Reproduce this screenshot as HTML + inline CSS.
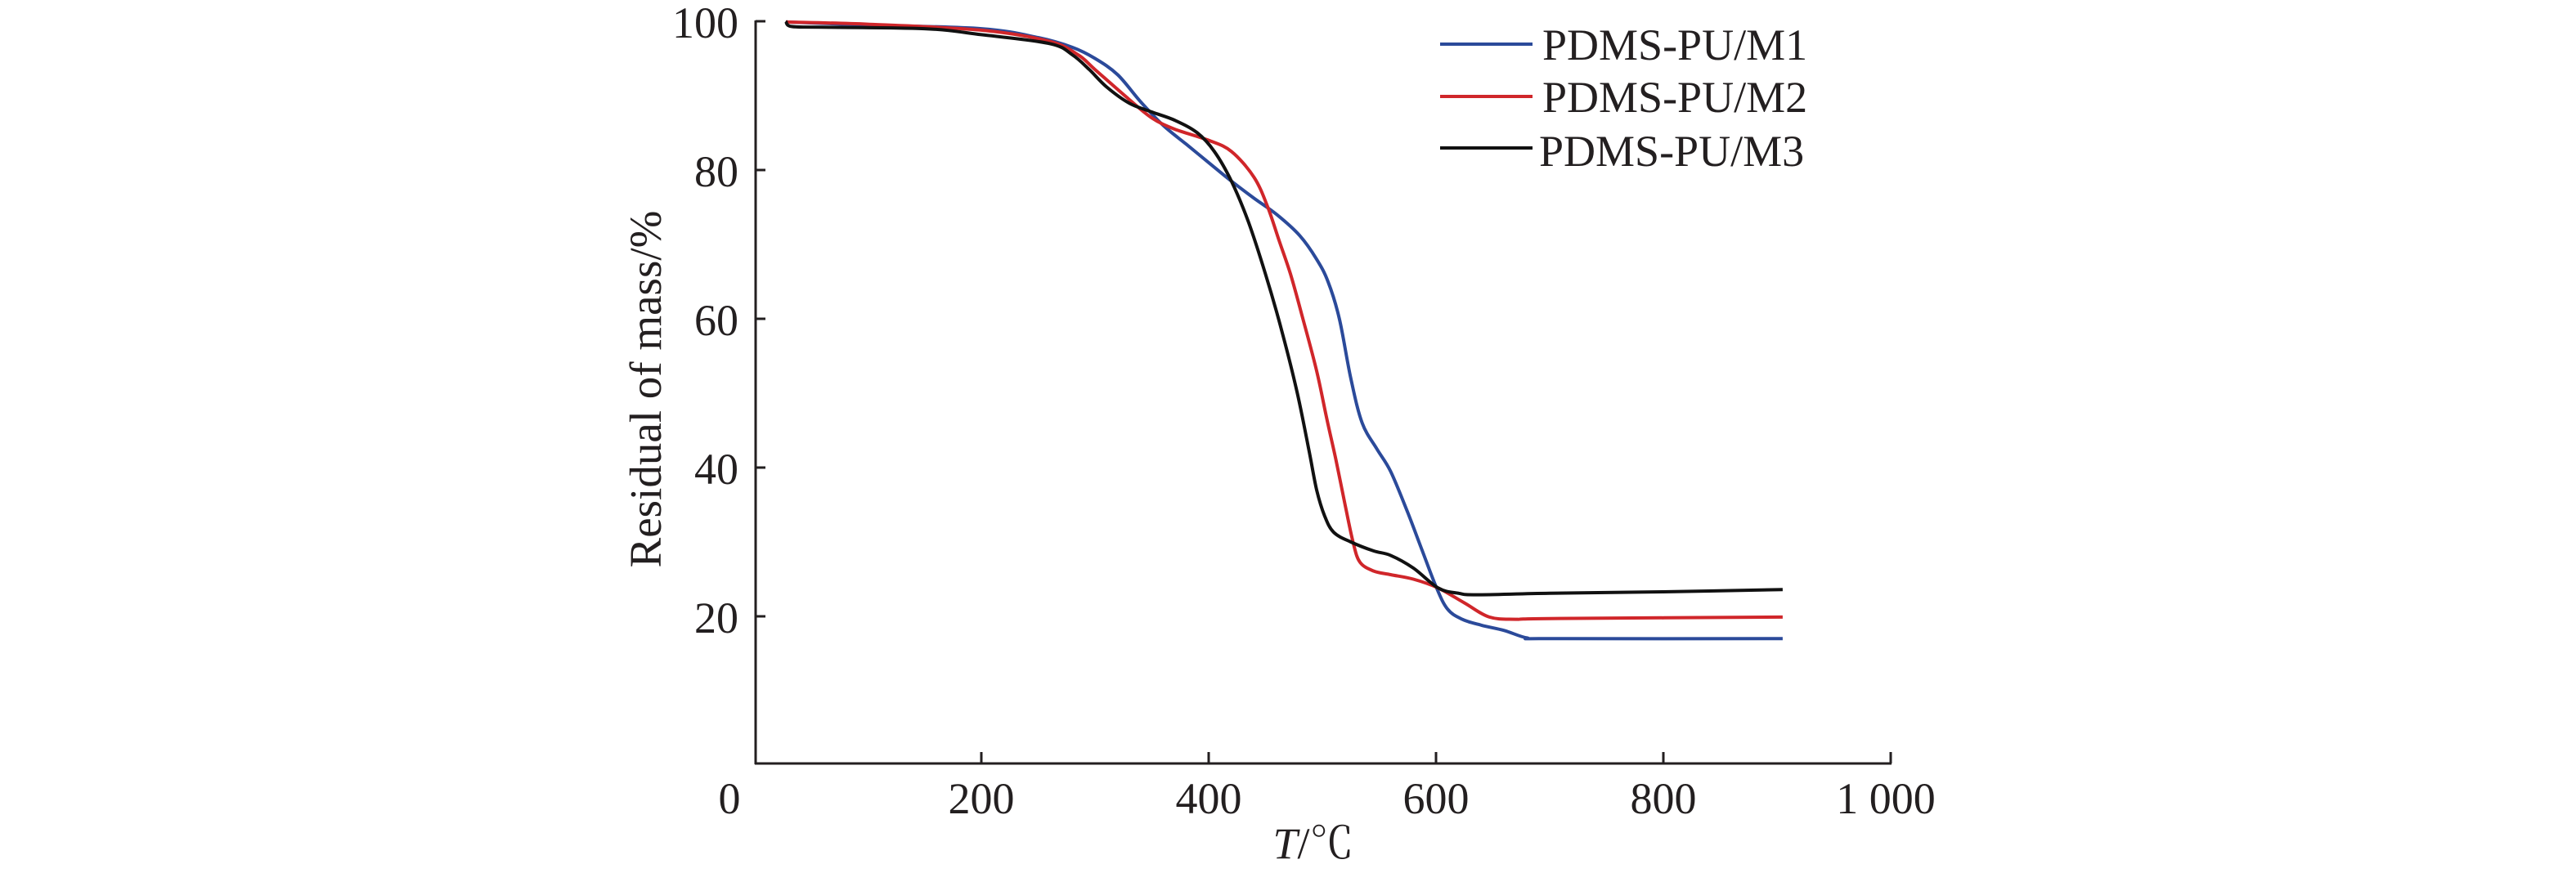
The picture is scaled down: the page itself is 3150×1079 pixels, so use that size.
<!DOCTYPE html>
<html><head><meta charset="utf-8"><style>
html,body{margin:0;padding:0;background:#fff;}
svg{display:block;}
text{font-family:"Liberation Serif","Noto Serif CJK SC",serif;fill:#231f20;}
</style></head><body>
<svg id="s" width="3150" height="1079" viewBox="0 0 3150 1079" xmlns="http://www.w3.org/2000/svg">
<g stroke="#231f20" stroke-width="3" fill="none">
<line x1="924" y1="25" x2="924" y2="935"/>
<line x1="923" y1="934" x2="2313" y2="934"/>
<line x1="924" y1="26" x2="936" y2="26"/>
<line x1="924" y1="208" x2="936" y2="208"/>
<line x1="924" y1="390" x2="936" y2="390"/>
<line x1="924" y1="572" x2="936" y2="572"/>
<line x1="924" y1="754" x2="936" y2="754"/>
<line x1="1200" y1="934" x2="1200" y2="920"/>
<line x1="1478" y1="934" x2="1478" y2="920"/>
<line x1="1756" y1="934" x2="1756" y2="920"/>
<line x1="2034" y1="934" x2="2034" y2="920"/>
<line x1="2312" y1="934" x2="2312" y2="920"/>
</g>
<g font-size="54" text-anchor="end">
<text x="903" y="46">100</text>
<text x="903" y="228">80</text>
<text x="903" y="410">60</text>
<text x="903" y="592">40</text>
<text x="903" y="774">20</text>
</g>
<g font-size="54" text-anchor="middle">
<text x="892" y="995">0</text>
<text x="1200" y="995">200</text>
<text x="1478" y="995">400</text>
<text x="1756" y="995">600</text>
<text x="2034" y="995">800</text>
<text x="2306" y="995">1 000</text>
<text x="1606" y="1050"><tspan font-style="italic">T</tspan>/℃</text>
</g>
<text font-size="55" text-anchor="middle" transform="translate(808,476) rotate(-90)">Residual of mass/%</text>
<g stroke-width="4" fill="none">
<line x1="1761" y1="54" x2="1874" y2="54" stroke="#2b4a9a"/>
<line x1="1761" y1="118" x2="1874" y2="118" stroke="#d0262a"/>
<line x1="1761" y1="181" x2="1874" y2="181" stroke="#111"/>
</g>
<g font-size="54">
<text x="1886" y="73">PDMS-PU/M1</text>
<text x="1886" y="137">PDMS-PU/M2</text>
<text x="1882" y="203">PDMS-PU/M3</text>
</g>
<path id="pb" fill="none" stroke="#2b4a9a" stroke-width="4"/>
<path id="pr" fill="none" stroke="#d0262a" stroke-width="4"/>
<path id="pk" fill="none" stroke="#111" stroke-width="4"/>
</svg>
<script>
function X(t){return 922+1.39*t;}function Y(m){return 936-9.1*m;}
function path(d){var p=[];for(var i=0;i<d.length;i+=2)p.push([X(d[i]),Y(d[i+1])]);
var s="M"+p[0][0].toFixed(1)+" "+p[0][1].toFixed(1);
for(var i=0;i<p.length-1;i++){var a=p[i-1]||p[i],b=p[i],c=p[i+1],e=p[i+2]||c;
var c1=[b[0]+(c[0]-a[0])/6,b[1]+(c[1]-a[1])/6],c2=[c[0]-(e[0]-b[0])/6,c[1]-(e[1]-b[1])/6];
s+=" C"+c1[0].toFixed(1)+" "+c1[1].toFixed(1)+" "+c2[0].toFixed(1)+" "+c2[1].toFixed(1)+" "+c[0].toFixed(1)+" "+c[1].toFixed(1);}
return s;}
document.getElementById("pb").setAttribute("d",path([28,99.9,100,99.5,200,99,250,97.8,280,96.5,300,95,320,92.8,340,89.2,360,86,380,83.5,400,81,420,78.5,440,76.2,460,74,480,71.2,495,68,505,65,515,60,525,52,535,46,548,42.5,560,39.5,575,34,587,29.2,600,24,610,21,623,19.6,640,18.8,660,18.1,680,17.1,700,17,905,17]));
document.getElementById("pr").setAttribute("d",path([28,99.9,100,99.6,200,98.8,260,97.3,285,95.5,300,93.5,330,89.5,350,87,370,85.5,400,84,420,82.5,440,79,452,75,462,70.5,472,66,482,60.5,495,53,504,46.5,512,41,520,35,527,30,533,27.3,545,26.1,560,25.6,580,25,602,23.8,625,21.8,647,19.9,670,19.6,700,19.7,905,19.9]));
document.getElementById("pk").setAttribute("d",path([28,100,33,99.3,60,99.2,150,99,200,98.2,260,97,280,95.5,295,93.5,310,91.2,330,89,350,87.8,370,86.7,390,85,405,82.5,420,78.5,435,73,450,66,465,58,478,50,488,42.5,495,37,502,33.5,510,31.3,525,30,545,28.8,560,28.2,580,26.5,602,23.8,620,23.1,636,22.9,700,23.1,800,23.3,905,23.6]));
</script>
</body></html>
